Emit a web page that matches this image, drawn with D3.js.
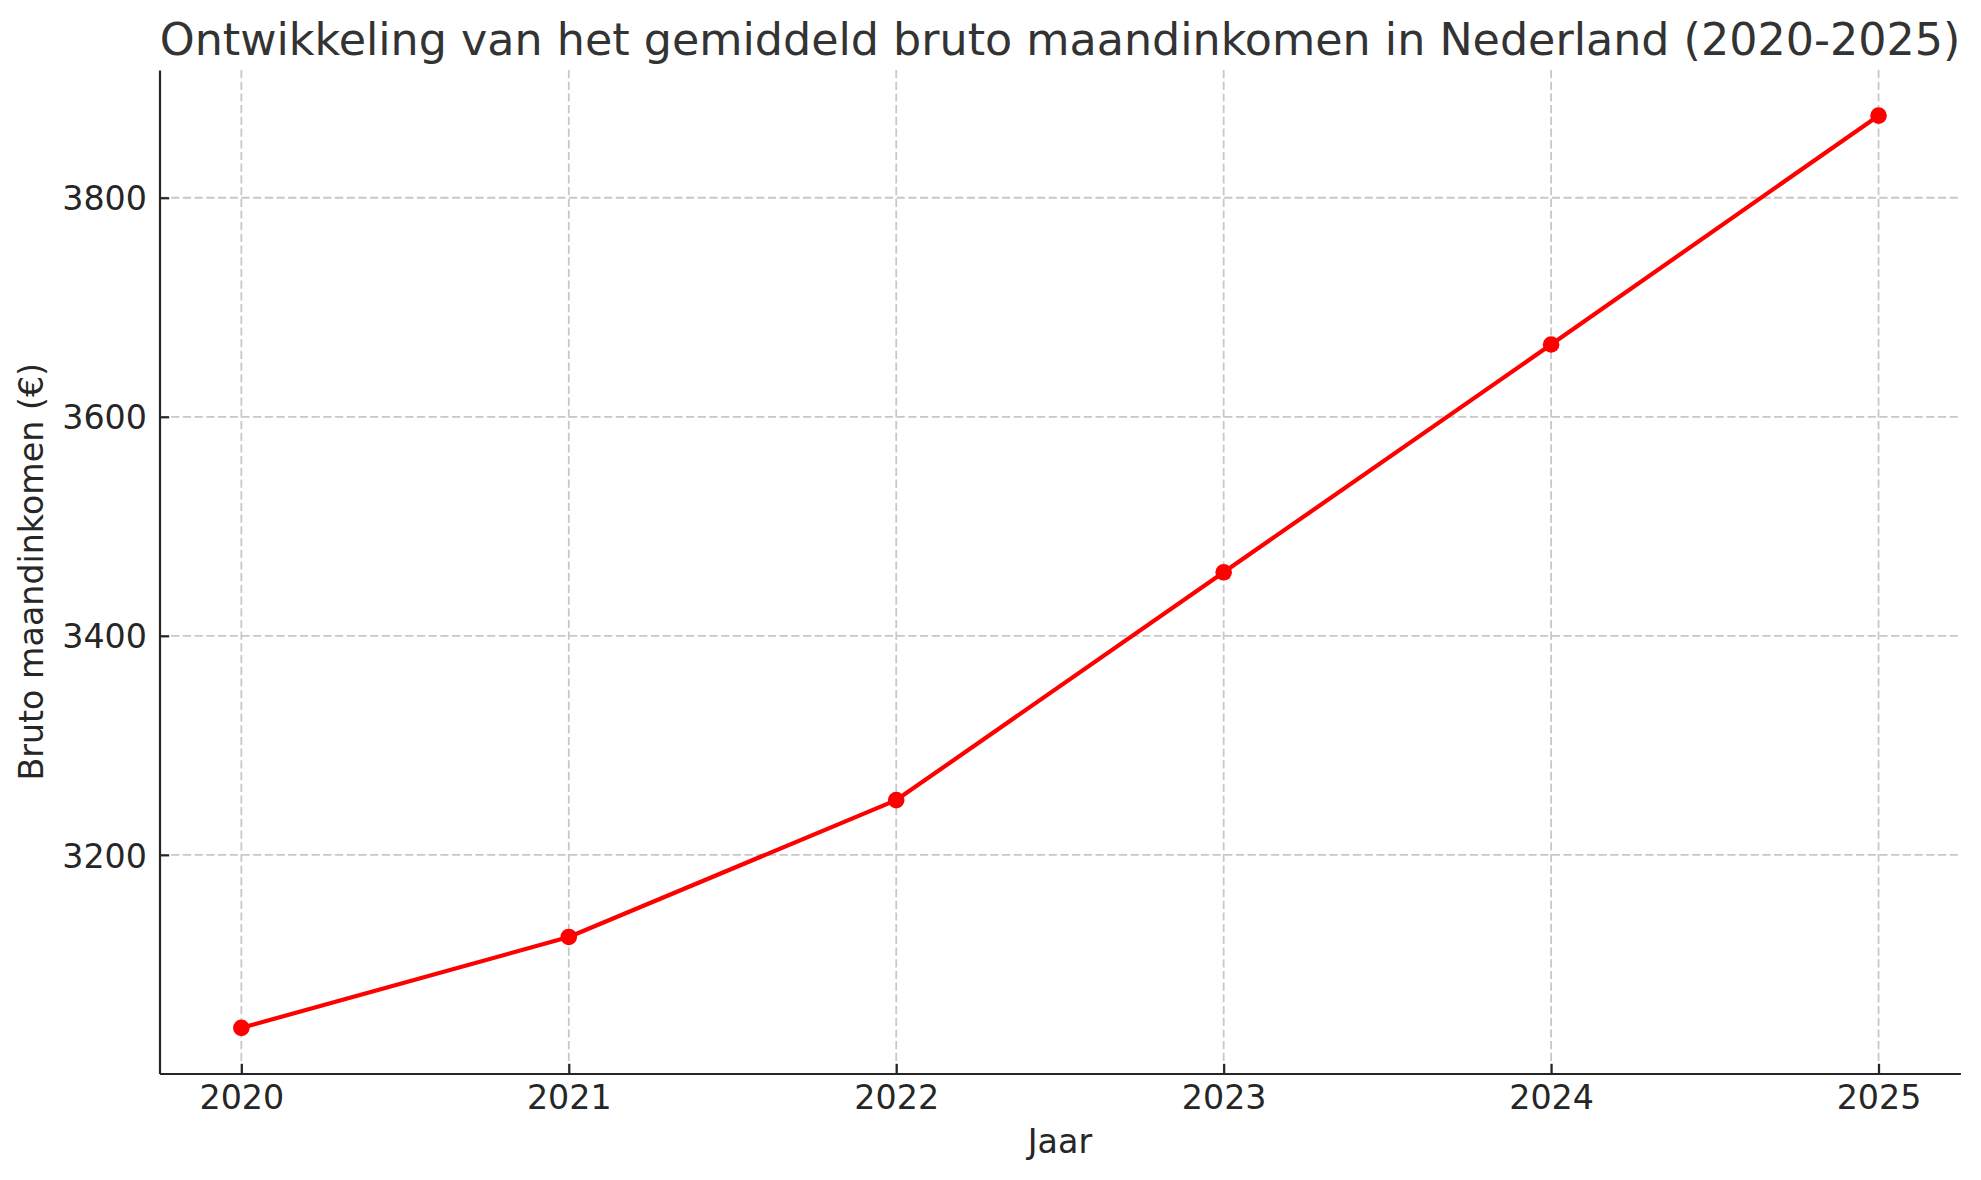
<!DOCTYPE html>
<html>
<head>
<meta charset="utf-8">
<script src="https://cdn.jsdelivr.net/npm/d3@7"></script>
<style>
  html, body { margin: 0; padding: 0; background: #fff; }
  svg { display: block; font-family: "DejaVu Sans", sans-serif; }
  .tick text { fill: #262626; font-size: 33.3px; font-family: "DejaVu Sans", sans-serif; }
  .grid line { stroke: #c8c8c8; stroke-width: 1.8; stroke-dasharray: 8.2 3.5; }
</style>
</head>
<body>
<svg id="chart" width="1981" height="1180"></svg>
<script>
// gemiddeld bruto maandinkomen per jaar
const years = [2020, 2021, 2022, 2023, 2024, 2025];
const incomes = [3042, 3125, 3250, 3458, 3666, 3875];
const yTicks = [3200, 3400, 3600, 3800];

const titleText = 'Ontwikkeling van het gemiddeld bruto maandinkomen in Nederland (2020-2025)';
const xLabel = 'Jaar';
const yLabel = 'Bruto maandinkomen (€)';

const width = 1981;
const height = 1180;
const margin = { top: 70, right: 20.6, bottom: 106.5, left: 159.5 };
const plotW = width - margin.left - margin.right;
const plotH = height - margin.top - margin.bottom;

const svg = d3.select('#chart');
const g = svg.append('g').attr('transform', `translate(${margin.left},${margin.top})`);

// matplotlib style 5% margins on both axes
const xPad = (d3.max(years) - d3.min(years)) * 0.05;
const x = d3.scaleLinear()
  .domain([d3.min(years) - xPad, d3.max(years) + xPad])
  .range([0, plotW]);

const yPad = (d3.max(incomes) - d3.min(incomes)) * 0.05;
const y = d3.scaleLinear()
  .domain([d3.min(incomes) - yPad, d3.max(incomes) + yPad])
  .range([plotH, 0]);

// grid
g.append('g').attr('class', 'grid')
  .selectAll('line.gx')
  .data(years)
  .join('line')
  .attr('x1', (d) => x(d)).attr('x2', (d) => x(d))
  .attr('y1', 0).attr('y2', plotH);

g.append('g').attr('class', 'grid')
  .selectAll('line.gy')
  .data(yTicks)
  .join('line')
  .attr('x1', 0).attr('x2', plotW)
  .attr('y1', (d) => y(d)).attr('y2', (d) => y(d));

// axes, ticks pointing inward
const xAxis = g.append('g')
  .attr('transform', `translate(0,${plotH})`)
  .call(d3.axisBottom(x).tickValues(years).tickFormat(d3.format('d')).tickSizeInner(-9.7).tickSizeOuter(0).tickPadding(0));
const yAxis = g.append('g')
  .call(d3.axisLeft(y).tickValues(yTicks).tickFormat(d3.format('d')).tickSizeInner(-9.7).tickSizeOuter(0).tickPadding(0));

for (const axis of [xAxis, yAxis]) {
  axis.attr('font-family', null).attr('font-size', null);
  axis.select('.domain').attr('stroke', '#262626').attr('stroke-width', 2.2);
  axis.selectAll('.tick line').attr('stroke', '#262626').attr('stroke-width', 2.2);
}
xAxis.selectAll('.tick text').attr('y', 35.5).attr('dy', null);
yAxis.selectAll('.tick text').attr('x', -12.5).attr('dy', '0.365em');

// line + markers
const line = d3.line()
  .x((d, i) => x(years[i]))
  .y((d) => y(d));

g.append('path')
  .datum(incomes)
  .attr('fill', 'none')
  .attr('stroke', '#ff0000')
  .attr('stroke-width', 4.2)
  .attr('stroke-linejoin', 'round')
  .attr('stroke-linecap', 'square')
  .attr('d', line);

g.append('g')
  .selectAll('circle')
  .data(incomes)
  .join('circle')
  .attr('cx', (d, i) => x(years[i]))
  .attr('cy', (d) => y(d))
  .attr('r', 8.3)
  .attr('fill', '#ff0000');

// labels
svg.append('text')
  .attr('x', margin.left + plotW / 2)
  .attr('y', 54.5)
  .attr('text-anchor', 'middle')
  .attr('fill', '#333333')
  .style('font-size', '44.4px')
  .text(titleText);

svg.append('text')
  .attr('x', margin.left + plotW / 2)
  .attr('y', 1153)
  .attr('text-anchor', 'middle')
  .attr('fill', '#262626')
  .style('font-size', '33.3px')
  .text(xLabel);

svg.append('text')
  .attr('transform', `translate(43,${margin.top + plotH / 2}) rotate(-90)`)
  .attr('text-anchor', 'middle')
  .attr('fill', '#262626')
  .style('font-size', '33.3px')
  .text(yLabel);
</script>
</body>
</html>
